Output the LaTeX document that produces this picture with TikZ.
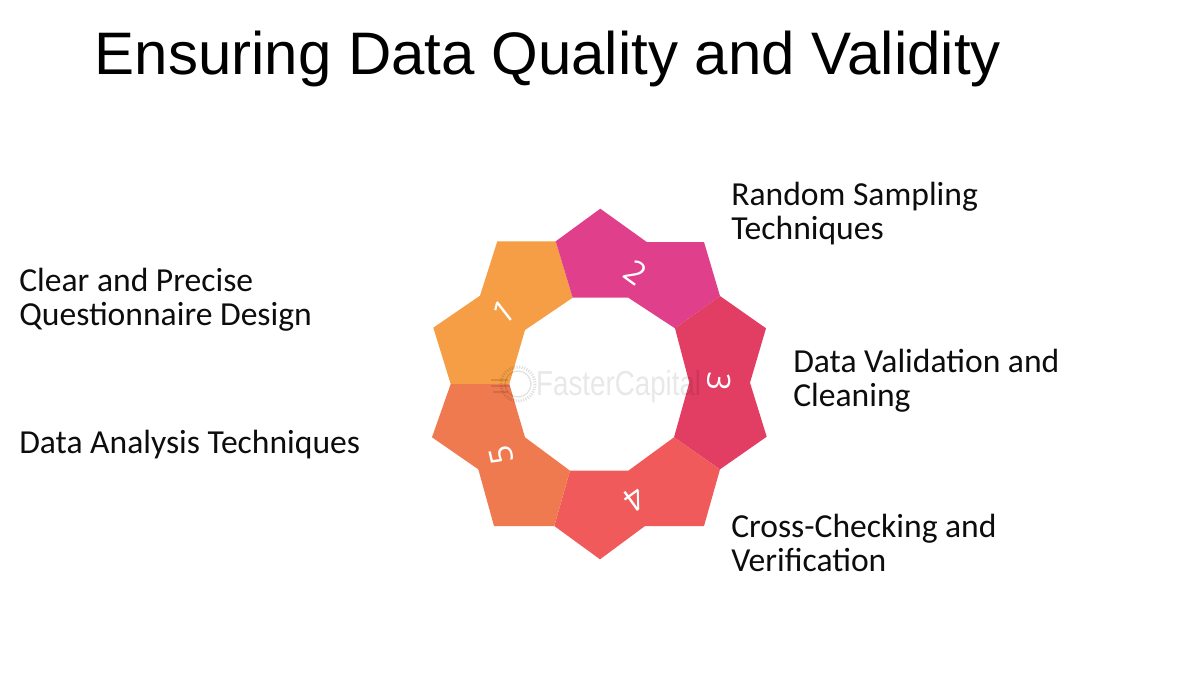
\documentclass[tikz,border=0pt]{standalone}
\usepackage{fontspec}
\setmainfont{Carlito}
\newfontfamily\titlefont{Liberation Sans}
\newfontfamily\numfont{Open Sans}
\newfontfamily\wmfont{Liberation Sans}
\definecolor{segA}{HTML}{F59E45}
\definecolor{segB}{HTML}{DF3F8B}
\definecolor{segC}{HTML}{E23D63}
\definecolor{segD}{HTML}{F05A5B}
\definecolor{segE}{HTML}{F07A50}
\tikzset{
 x=0.75pt,y=-0.75pt,
 seg/.style={draw=none},
 lab/.style={anchor=west,align=left,font=\fontsize{25.2pt}{25.5pt}\selectfont,inner sep=0pt,text=black!95},
 num/.style={text=white,font=\fontsize{24pt}{24pt}\selectfont\numfont,inner sep=0pt},
 wmark/.style={draw=black,opacity=0.12,line width=0.9pt},
}
\begin{document}
\begin{tikzpicture}
\useasboundingbox (0,0) rectangle (1200,675);
\fill[white] (0,0) rectangle (1200,675);
\node[anchor=base west,inner sep=0pt,font=\titlefont\fontsize{45pt}{50pt}\selectfont] (title) at (94.5,74) {Ensuring Data Quality and Validity};
\fill[seg,segA] (497.3,241.3)--(555.7,241.3)--(572.7,297.7)--(525,330)--(509.3,384)--(450.7,384)--(433.3,327.7)--(480,295.7)--cycle;
\fill[seg,segB] (555.7,241.3)--(600.3,208.7)--(646.7,242)--(704,242)--(720,296)--(675,328.3)--(628.3,297.7)--(572.7,297.7)--cycle;
\fill[seg,segC] (720,296)--(766,328.3)--(750,382.7)--(766.7,436.7)--(720,469.3)--(674,437.3)--(689.3,382.7)--(675,328.3)--cycle;
\fill[seg,segD] (674,437.3)--(720,469.3)--(704,526)--(645,526)--(600,559.3)--(554.3,526)--(570,470.7)--(628.3,470.7)--cycle;
\fill[seg,segE] (525,437.3)--(570,470.7)--(554.3,526)--(494,526)--(478.3,469.3)--(432,437.3)--(450.7,384)--(509.3,384)--cycle;
% faint watermark
\draw[wmark] (518,384) circle (13);
\draw[wmark,densely dotted,line width=2.2pt] (518,384) circle (17);
\draw[wmark] (491,380)--(508,380) (491,386)--(510,386) (493,392)--(508,392);
\node[anchor=base west,inner sep=0pt,text=black,opacity=0.09,xscale=0.80,font=\fontsize{26pt}{26pt}\selectfont\wmfont] (wm) at (536,395) {FasterCapital};
\node[num,rotate=38] (n1) at (504,312) {1};
\node[num,rotate=-36] (n2) at (636,272) {2};
\node[num,rotate=-95] (n3) at (719,382) {3};
\node[num,rotate=-144] (n4) at (635,499) {4};
\node[num,rotate=103] (n5) at (501,455) {5};
\node[lab] (l1) at (19,299.5) {Clear and Precise\\Questionnaire Design};
\node[lab] (l2) at (731,213.5) {Random Sampling\\Techniques};
\node[lab] (l3) at (793,381) {Data Validation and\\Cleaning};
\node[lab] (l4) at (731,543) {Cross-Checking and\\Verification};
\node[lab] (l5) at (19,444.5) {Data Analysis Techniques};
\end{tikzpicture}
\end{document}
